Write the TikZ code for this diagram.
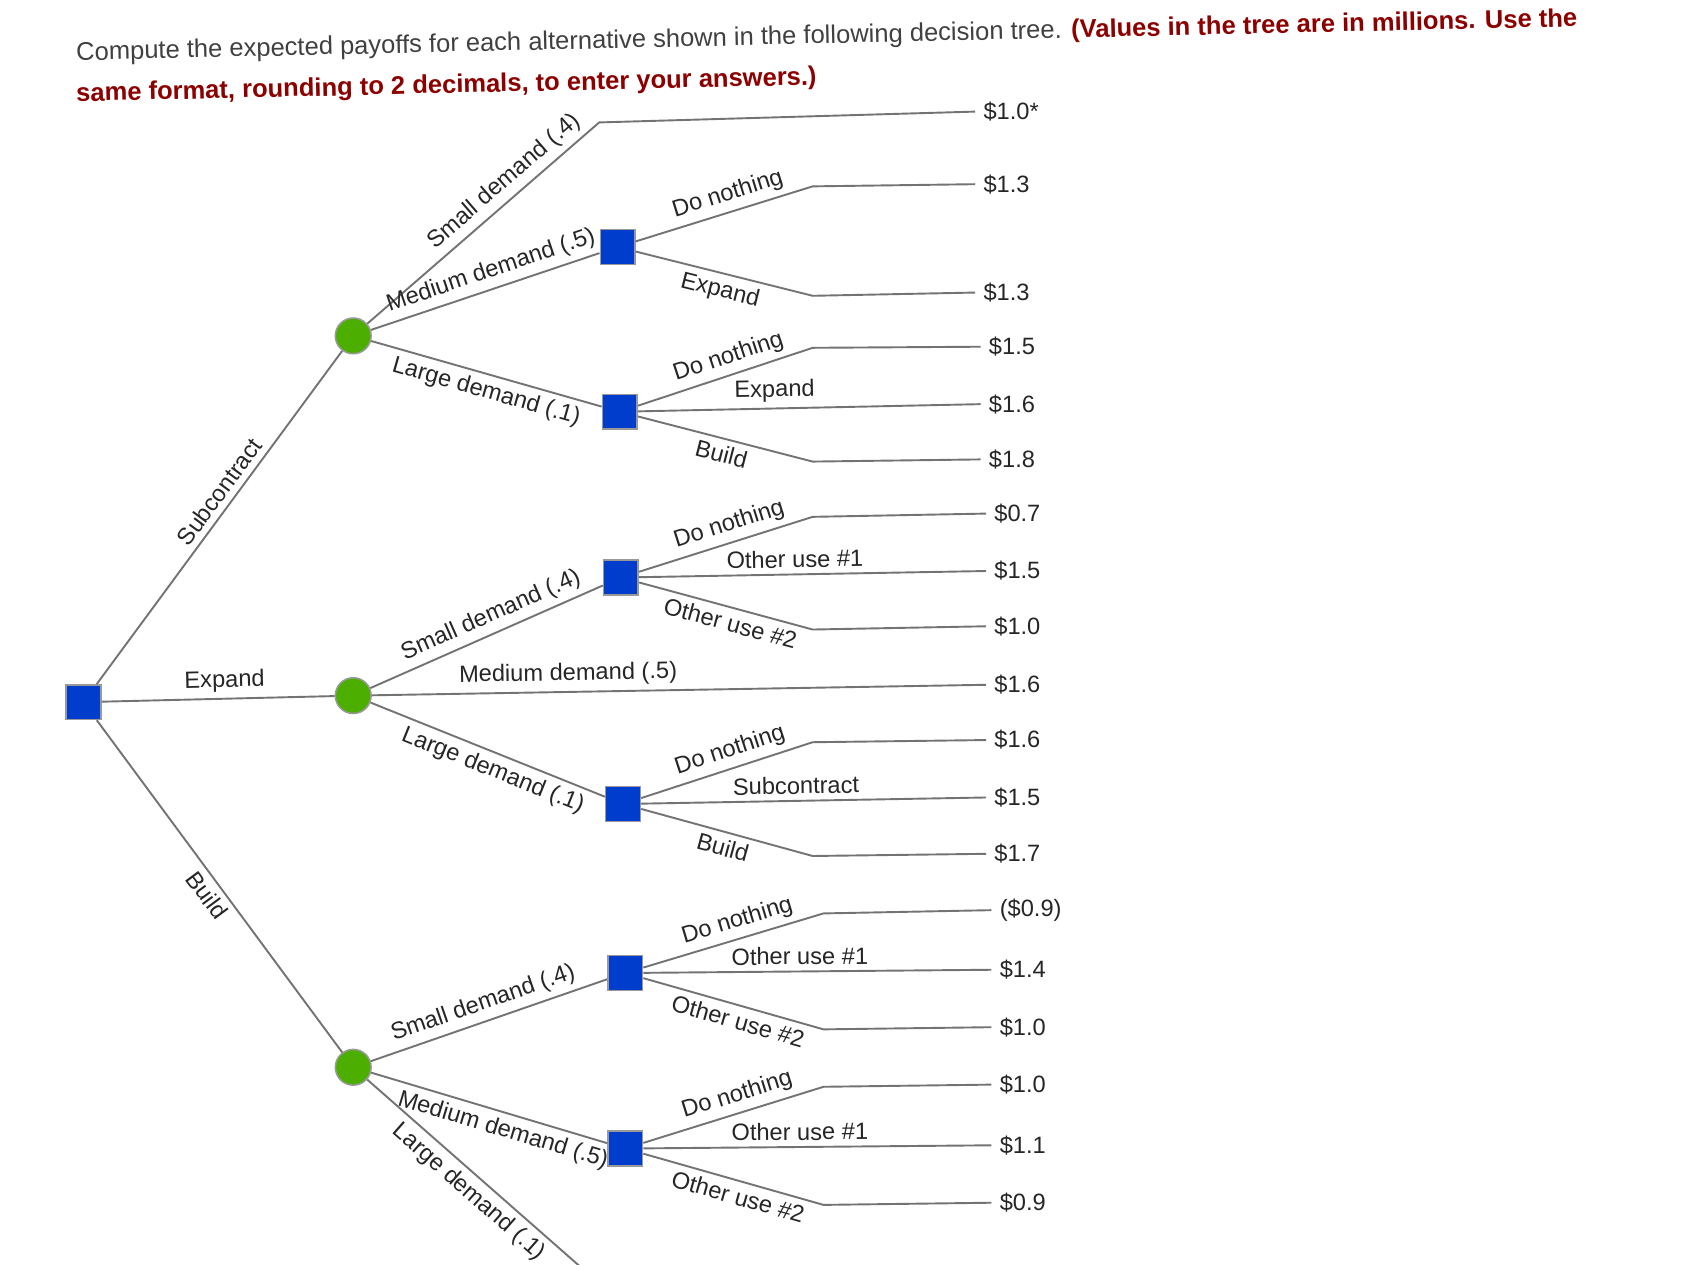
\documentclass[tikz,border=0pt]{standalone}
\usepackage{fontspec}
\setmainfont{Liberation Sans}
\begin{document}
\begin{tikzpicture}[x=0.01cm,y=-0.01cm,
  ln/.style={draw=black!55,line width=0.5pt},
  dsq/.style={draw=black!40,fill=blue!70!cyan!80!black,minimum size=0.32cm,inner sep=0pt},
  chc/.style={circle,draw=black!40,fill=green!55!black!70!yellow,minimum size=0.33cm,inner sep=0pt},
  lbl/.style={font=\fontsize{6.2}{7}\selectfont,text=black!85,sloped,inner sep=1.5pt},
  pay/.style={font=\fontsize{6.2}{7}\selectfont,text=black!85,anchor=west,inner sep=2pt}]
\useasboundingbox[fill=white] (0,0) rectangle (1568,1167);
% title
\node[anchor=west,font=\fontsize{6.7}{8}\selectfont,rotate=1.3,text=black!75,align=left] (t1) at (58,50)
 {Compute the expected payoffs for each alternative shown in the following decision tree. \textcolor{red!55!black}{\textbf{(Values in the tree are in millions. Use the}}};
\node[anchor=west,font=\fontsize{6.7}{8}\selectfont\bfseries,rotate=1.3,text=red!55!black] (t2) at (58,88)
 {same format, rounding to 2 decimals, to enter your answers.)};
% nodes
\node[dsq] (r) at (77,648) {};
\node[chc] (cs) at (326,310) {};
\node[chc] (ce) at (326,642) {};
\node[chc] (cb) at (326,985) {};
\node[dsq] (s1) at (570,228) {};
\node[dsq] (s2) at (572,380) {};
\node[dsq] (e1) at (573,533) {};
\node[dsq] (e2) at (575,742) {};
\node[dsq] (b1) at (577,898) {};
\node[dsq] (b2) at (577,1060) {};
% coordinates
\coordinate (k1) at (553,113); \coordinate (p1) at (900,103);
\coordinate (k2) at (750,172); \coordinate (p2) at (900,170);
\coordinate (k3) at (750,273); \coordinate (p3) at (900,270);
\coordinate (k4) at (750,321); \coordinate (p4) at (905,320);
\coordinate (p5) at (905,373);
\coordinate (k6) at (750,426); \coordinate (p6) at (905,424);
\coordinate (k7) at (750,477); \coordinate (p7) at (910,474);
\coordinate (p8) at (910,527);
\coordinate (k9) at (750,581); \coordinate (p9) at (910,578);
\coordinate (p10) at (910,632);
\coordinate (k11) at (750,685); \coordinate (p11) at (910,683);
\coordinate (p12) at (910,736);
\coordinate (k13) at (750,790); \coordinate (p13) at (910,788);
\coordinate (k14) at (760,843); \coordinate (p14) at (915,840);
\coordinate (p15) at (915,895);
\coordinate (k16) at (760,950); \coordinate (p16) at (915,948);
\coordinate (k17) at (760,1003); \coordinate (p17) at (915,1001);
\coordinate (p18) at (915,1057);
\coordinate (k19) at (760,1112); \coordinate (p19) at (915,1110);
\coordinate (lend) at (548,1180);
% root edges
\draw[ln] (r) -- node[lbl,above,pos=0.55]{Subcontract} (cs);
\draw[ln] (r) -- node[lbl,above,pos=0.53]{Expand} (ce);
\draw[ln] (r) -- node[lbl,below,pos=0.5]{Build} (cb);
% subcontract
\draw[ln] (cs) -- node[lbl,above,pos=0.64]{Small demand (.4)} (k1) -- (p1);
\draw[ln] (cs) -- node[lbl,above,pos=0.55]{Medium demand (.5)} (s1);
\draw[ln] (cs) -- node[lbl,below,pos=0.52]{Large demand (.1)} (s2);
\draw[ln] (s1) -- node[lbl,above,pos=0.55]{Do nothing} (k2) -- (p2);
\draw[ln] (s1) -- node[lbl,below,pos=0.5]{Expand} (k3) -- (p3);
\draw[ln] (s2) -- node[lbl,above,pos=0.55]{Do nothing} (k4) -- (p4);
\draw[ln] (s2) -- node[lbl,above,pos=0.4]{Expand} (p5);
\draw[ln] (s2) -- node[lbl,below,pos=0.5]{Build} (k6) -- (p6);
% expand
\draw[ln] (ce) -- node[lbl,above,pos=0.55]{Small demand (.4)} (e1);
\draw[ln] (ce) -- node[lbl,above,pos=0.32]{Medium demand (.5)} (p10);
\draw[ln] (ce) -- node[lbl,below,pos=0.55]{Large demand (.1)} (e2);
\draw[ln] (e1) -- node[lbl,above,pos=0.55]{Do nothing} (k7) -- (p7);
\draw[ln] (e1) -- node[lbl,above,pos=0.45]{Other use \#1} (p8);
\draw[ln] (e1) -- node[lbl,below,pos=0.55]{Other use \#2} (k9) -- (p9);
\draw[ln] (e2) -- node[lbl,above,pos=0.55]{Do nothing} (k11) -- (p11);
\draw[ln] (e2) -- node[lbl,above,pos=0.45]{Subcontract} (p12);
\draw[ln] (e2) -- node[lbl,below,pos=0.5]{Build} (k13) -- (p13);
% build
\draw[ln] (cb) -- node[lbl,above,pos=0.5]{Small demand (.4)} (b1);
\draw[ln] (cb) -- node[lbl,below,pos=0.58]{Medium demand (.5)} (b2);
\draw[ln] (cb) -- node[lbl,below,pos=0.5]{Large demand (.1)} (lend);
\draw[ln] (b1) -- node[lbl,above,pos=0.55]{Do nothing} (k14) -- (p14);
\draw[ln] (b1) -- node[lbl,above,pos=0.45]{Other use \#1} (p15);
\draw[ln] (b1) -- node[lbl,below,pos=0.55]{Other use \#2} (k16) -- (p16);
\draw[ln] (b2) -- node[lbl,above,pos=0.55]{Do nothing} (k17) -- (p17);
\draw[ln] (b2) -- node[lbl,above,pos=0.45]{Other use \#1} (p18);
\draw[ln] (b2) -- node[lbl,below,pos=0.55]{Other use \#2} (k19) -- (p19);
% payoffs
\node[pay] (v1) at (p1) {\$1.0*};
\node[pay] (v2) at (p2) {\$1.3};
\node[pay] (v3) at (p3) {\$1.3};
\node[pay] (v4) at (p4) {\$1.5};
\node[pay] (v5) at (p5) {\$1.6};
\node[pay] (v6) at (p6) {\$1.8};
\node[pay] (v7) at (p7) {\$0.7};
\node[pay] (v8) at (p8) {\$1.5};
\node[pay] (v9) at (p9) {\$1.0};
\node[pay] (v10) at (p10) {\$1.6};
\node[pay] (v11) at (p11) {\$1.6};
\node[pay] (v12) at (p12) {\$1.5};
\node[pay] (v13) at (p13) {\$1.7};
\node[pay] (v14) at (p14) {(\$0.9)};
\node[pay] (v15) at (p15) {\$1.4};
\node[pay] (v16) at (p16) {\$1.0};
\node[pay] (v17) at (p17) {\$1.0};
\node[pay] (v18) at (p18) {\$1.1};
\node[pay] (v19) at (p19) {\$0.9};
\end{tikzpicture}
\end{document}
